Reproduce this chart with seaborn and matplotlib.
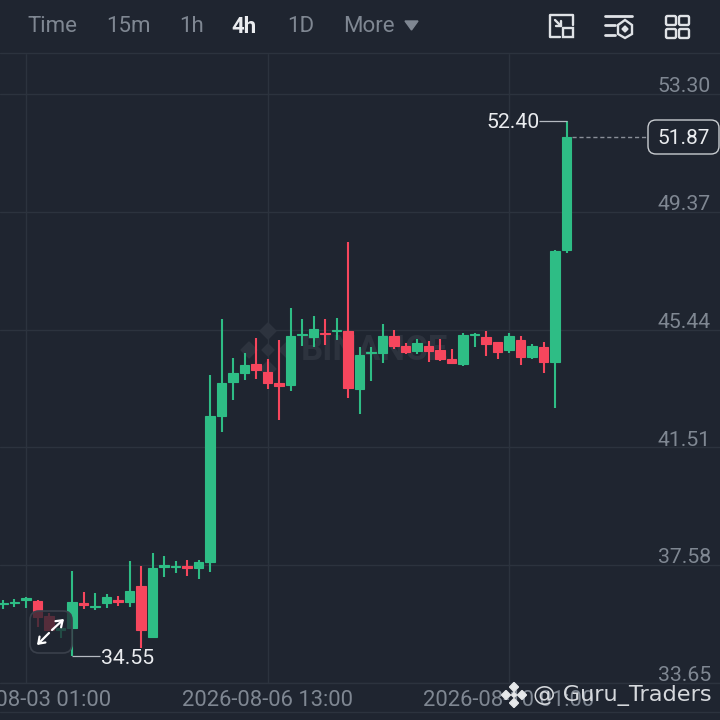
import numpy as np
import pandas as pd
import seaborn as sns
import matplotlib.pyplot as plt
from matplotlib.patches import FancyBboxPatch, Polygon, Rectangle
from matplotlib.transforms import Affine2D, blended_transform_factory

# candles, 4h each, index 0 is 08-03 01:00
candle_idx = list(range(-2, 48))
opens = [36.28, 36.30, 36.42, 36.38, 35.88, 35.42, 35.48, 36.30, 36.18, 36.32,
         36.42, 36.35, 36.88, 35.18, 37.53, 37.51, 37.55, 37.48, 37.68, 42.56,
         43.70, 44.00, 44.30, 44.03, 43.66, 43.60, 45.25, 45.20, 45.31, 45.38,
         45.40, 43.46, 44.65, 44.66, 45.23, 44.90, 44.73, 44.90, 44.76, 44.46,
         44.30, 45.25, 45.20, 45.03, 44.76, 45.10, 44.53, 44.86, 44.36, 48.10]
highs = [36.42, 36.45, 36.52, 36.40, 35.98, 35.52, 37.38, 36.68, 36.65, 36.62,
         36.55, 37.72, 37.55, 37.98, 37.88, 37.72, 37.75, 37.75, 43.93, 45.80,
         44.50, 44.66, 45.16, 44.46, 45.10, 46.16, 45.80, 45.90, 45.80, 45.83,
         48.37, 44.86, 44.86, 45.63, 45.43, 45.00, 45.13, 45.06, 45.13, 44.80,
         45.33, 45.33, 45.40, 45.03, 45.33, 45.23, 44.96, 45.03, 48.10, 52.40]
lows = [36.12, 36.18, 36.15, 35.52, 35.38, 35.15, 34.55, 36.12, 36.08, 36.15,
        36.22, 36.18, 34.82, 35.18, 37.18, 37.32, 37.22, 37.12, 37.35, 42.03,
        43.09, 43.76, 43.80, 43.46, 42.43, 43.40, 44.90, 44.86, 44.93, 45.10,
        43.16, 42.63, 43.73, 44.33, 44.80, 44.63, 44.63, 44.36, 44.40, 44.31,
        44.23, 44.86, 44.56, 44.46, 44.66, 44.26, 44.46, 44.00, 42.83, 48.00]
closes = [36.32, 36.35, 36.48, 35.85, 35.42, 35.48, 36.35, 36.25, 36.22, 36.52,
          36.35, 36.72, 35.42, 37.48, 37.57, 37.55, 37.49, 37.68, 42.56, 43.66,
          44.00, 44.26, 44.10, 43.66, 43.56, 45.23, 45.28, 45.46, 45.28, 45.43,
          43.50, 44.60, 44.68, 45.23, 44.90, 44.70, 45.00, 44.73, 44.46, 44.33,
          45.26, 45.28, 44.96, 44.70, 45.23, 44.53, 44.90, 44.36, 48.07, 51.87]

price_ticks = [53.30, 49.37, 45.44, 41.51, 37.58, 33.65]
time_ticks = [0, 21, 42]
time_labels = ['2026-08-03 01:00', '2026-08-06 13:00', '2026-08-10 01:00']
intervals = ['Time', '15m', '1h', '4h', '1D', 'More']
interval_x = [27, 106, 179, 231, 287, 343]
last_price = 51.87
high_price = 52.40
low_price = 34.55

BG = '#1f2530'
GRID = '#2c333e'
GREEN = '#2ebd85'
RED = '#f6465d'
MUTED = '#7f8792'
LIGHT = '#eaecef'

sns.set_theme(style='dark', rc={'axes.facecolor': BG, 'figure.facecolor': BG})
plt.rcParams['font.family'] = ['Roboto', 'DejaVu Sans']

fig = plt.figure(figsize=(7.2, 7.2), dpi=100)
ax = fig.add_axes([0, 0, 1, 1])
# pixel coordinates for the app chrome, origin top left
px = Affine2D().scale(1, -1).translate(0, 720)

df = pd.DataFrame({'i': candle_idx, 'o': opens, 'h': highs, 'l': lows, 'c': closes})
df['bottom'] = df[['o', 'c']].min(axis=1)
df['height'] = (df['c'] - df['o']).abs()
df['up'] = df['c'] >= df['o']

for is_up, col in [(True, GREEN), (False, RED)]:
    sub = df[df['up'] == is_up]
    sns.barplot(data=sub, x='i', y='height', native_scale=True, color=col, saturation=1,
                width=0.85, errorbar=None, bottom=sub['bottom'].values, ax=ax,
                edgecolor=col, linewidth=0.8, zorder=2)
    ax.vlines(sub['i'], sub['l'], sub['h'], color=col, linewidth=1.5, zorder=1.9)

ax.set_xlim(-26 / 11.5, (720 - 26) / 11.5)
ax.set_ylim(53.30 - (720 - 94) * 0.03337, 53.30 + 94 * 0.03337)
ax.set_xlabel('')
ax.set_ylabel('')
ax.set_xticks(time_ticks)
ax.set_yticks(price_ticks)
ax.set_xticklabels([])
ax.set_yticklabels([])
ax.tick_params(length=0)
ax.grid(True, color=GRID, linewidth=1)
ax.set_axisbelow(True)
for s in ax.spines.values():
    s.set_visible(False)

# toolbar and time strip hide the vertical grid
ax.add_patch(Rectangle((0, 0), 720, 53, transform=px, color=BG, zorder=1))
ax.add_patch(Rectangle((0, 684), 720, 36, transform=px, color=BG, zorder=1))
for y in [53, 683, 712]:
    ax.plot([0, 720], [y, y], transform=px, color=GRID, lw=1, zorder=1.1)

# exchange watermark under the candles
WM = '#2d333e'
for cx, cy, r in [(268, 331, 8), (268, 369, 8), (249, 350, 8), (287, 350, 8), (268, 350, 6)]:
    ax.add_patch(Polygon([(cx - r, cy), (cx, cy - r), (cx + r, cy), (cx, cy + r)],
                         transform=px, color=WM, zorder=1.2))
ax.text(301, 351, 'BINANCE', transform=px, color=WM, fontsize=25, fontweight='bold',
        va='center', ha='left', zorder=1.2)

# toolbar
for name, x in zip(intervals, interval_x):
    active = name == '4h'
    ax.text(x, 27, name, transform=px, fontsize=16, va='center', ha='left', zorder=5,
            color=LIGHT if active else MUTED, fontweight='bold' if active else 'normal')
ax.add_patch(Polygon([(405, 21), (418, 21), (411.5, 30)], transform=px, color=MUTED, zorder=5))

ICON = '#dfe2e6'
def line(xs, ys, lw=1.7, col=ICON):
    ax.plot(xs, ys, transform=px, color=col, lw=lw, zorder=5, solid_capstyle='round')

line([560, 550, 550, 573, 573], [37, 37, 15, 15, 25])
ax.add_patch(Rectangle((563, 28), 10, 9, transform=px, fill=False, ec=ICON, lw=1.7, zorder=5))
line([555, 561], [20, 26])
line([556, 561, 561], [26, 26, 21])
line([605, 632], [16, 16], lw=2)
line([605, 615], [25, 25], lw=2)
line([605, 615], [35, 35], lw=2)
ax.add_patch(Polygon([(625, 20), (632, 25), (632, 34), (625, 38), (618, 34), (618, 25)],
                     transform=px, fill=False, ec=ICON, lw=1.7, zorder=5))
ax.add_patch(Polygon([(625, 26), (628, 29), (625, 32), (622, 29)], transform=px, color=ICON, zorder=5))
for bx, by in [(666, 16), (679, 16), (666, 29), (679, 29)]:
    ax.add_patch(FancyBboxPatch((bx, by), 10, 9, boxstyle='round,pad=0,rounding_size=1.5',
                                transform=px, fill=False, ec=ICON, lw=1.7, zorder=5))

# price labels sit above their grid lines
for p in price_ticks:
    ax.annotate(f'{p:.2f}', (711, p), xycoords=('figure pixels', 'data'), xytext=(0, -1.6),
                textcoords='offset points', color=MUTED, fontsize=15.3, ha='right',
                va='bottom', zorder=5, annotation_clip=False)

time_tr = blended_transform_factory(ax.transData, px)
for t, lab in zip(time_ticks, time_labels):
    ax.text(t, 700, lab, transform=time_tr, color=MUTED, fontsize=15.8,
            ha='center', va='center', zorder=3)

# high and low callouts, flat leader from the wick tip to the text
i_high = candle_idx[highs.index(high_price)]
i_low = candle_idx[lows.index(low_price)]
ax.hlines(high_price, i_high - 2.4, i_high, color='#b5bac1', lw=0.9, zorder=6)
ax.hlines(low_price, i_low, i_low + 2.4, color='#b5bac1', lw=0.9, zorder=6)
ax.text(486, 123, f'{high_price:.2f}', transform=px, color=LIGHT, fontsize=15.3,
        va='center', ha='left', zorder=6)
ax.text(101, 658, f'{low_price:.2f}', transform=px, color=LIGHT, fontsize=15.3,
        va='center', ha='left', zorder=6)

# last price line and tag
ax.plot([i_high + 0.5, 60], [last_price, last_price], color='#8a8f98', lw=1, ls=(0, (3, 2)), zorder=3)
ax.add_patch(FancyBboxPatch((648, 120), 71, 34, boxstyle='round,pad=0,rounding_size=8',
                            transform=px, fc=BG, ec='#c8ccd0', lw=1, zorder=5))
ax.text(684, 138, f'{last_price:.2f}', transform=px, color=LIGHT, fontsize=15,
        ha='center', va='center', zorder=6)

# expand button over the chart
ax.add_patch(FancyBboxPatch((30, 611), 42, 42, boxstyle='round,pad=0,rounding_size=9',
                            transform=px, fc=BG, alpha=0.75, ec='none', zorder=4))
ax.add_patch(FancyBboxPatch((30, 611), 42, 42, boxstyle='round,pad=0,rounding_size=9',
                            transform=px, fill=False, ec='#3a404b', lw=1.2, zorder=4.1))
for a, b in [((52, 630), (64, 619)), ((49, 633), (37, 645))]:
    ax.annotate('', xy=b, xytext=a, xycoords=px, textcoords=px, zorder=5,
                arrowprops=dict(arrowstyle='->,head_length=0.35,head_width=0.25', color='white',
                                lw=1.6, shrinkA=0, shrinkB=0))

# post watermark
for cx, cy, r in [(514, 687, 4.5), (506, 695, 4.5), (522, 695, 4.5), (514, 703, 4.5)]:
    ax.add_patch(Polygon([(cx - r, cy), (cx, cy - r), (cx + r, cy), (cx, cy + r)],
                         transform=px, color='#e6e8ea', zorder=7))
ax.add_patch(Polygon([(511.5, 695), (514, 692.5), (516.5, 695), (514, 697.5)], transform=px, color='#e6e8ea', zorder=7))
ax.text(533, 695, '@ Guru_Traders', transform=px, color='#d5d8dc', fontsize=16.2,
        family='DejaVu Sans', va='center', ha='left', zorder=7)

fig.savefig('out.png', dpi=100, facecolor=BG)
